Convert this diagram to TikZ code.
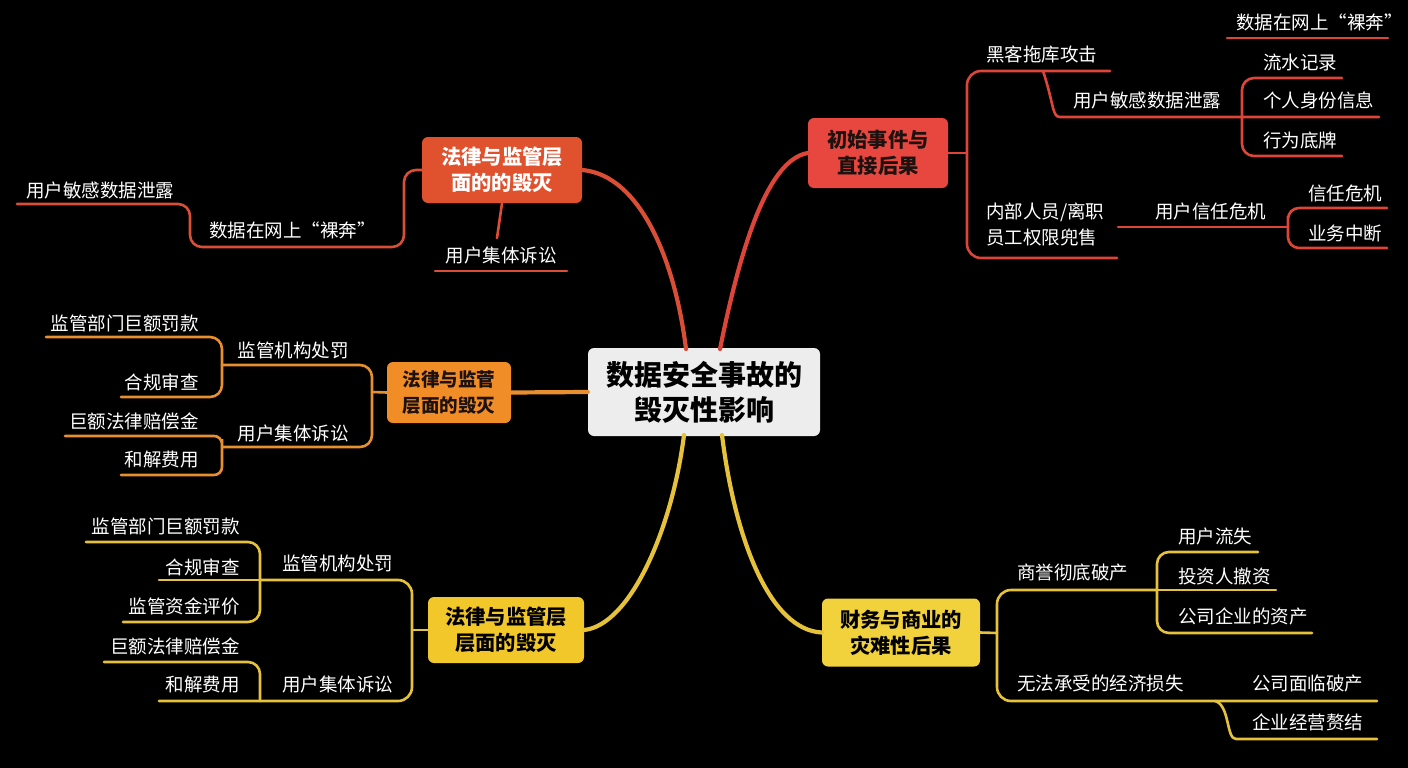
\documentclass[tikz,border=0pt]{standalone}
\usepackage{fontspec}
\setmainfont{Noto Sans CJK SC}
\usetikzlibrary{calc}
\definecolor{cred}{HTML}{E8473F}
\definecolor{ctl}{HTML}{E0512E}
\definecolor{corg}{HTML}{F08D26}
\definecolor{cyel}{HTML}{F2C72A}
\definecolor{cyel2}{HTML}{F1D23C}
\definecolor{lred}{HTML}{DC4538}
\definecolor{ltl}{HTML}{DA4E36}
\definecolor{lorg}{HTML}{E8902F}
\definecolor{lyel}{HTML}{E6C23A}
\definecolor{cgray}{HTML}{EDEDED}
\definecolor{dtext}{HTML}{1E1210}
\begin{document}
\begin{tikzpicture}[x=1pt,y=-1pt,
  mainbox/.style={rounded corners=6pt, align=center, inner sep=0pt, font=\fontsize{20.3}{26}\selectfont\bfseries},
  leaf/.style={text=white, inner sep=0pt, font=\fontsize{18.5}{26}\selectfont},
  br/.style={line width=2.6pt, rounded corners=12pt, line cap=round},
  trunk/.style={line width=4.2pt, line cap=round}]
\fill[black] (0,0) rectangle (1408,768);
\useasboundingbox (0,0) rectangle (1408,768);

% ---------- main curves ----------
\coordinate (cTR) at (720,349);
\coordinate (cTL) at (686,349);
\coordinate (cBL) at (684,435);
\coordinate (cBR) at (722,435);

% ---------- boxes ----------
\node[mainbox, fill=cgray, text=black, minimum width=232pt, minimum height=88pt,
  font=\fontsize{28}{35}\selectfont\bfseries] (c) at (704,392) {数据安全事故的\\毁灭性影响};
\node[mainbox, fill=cred, text=dtext, minimum width=140pt, minimum height=70pt] (tr) at (878,153) {初始事件与\\直接后果};
\node[mainbox, fill=ctl, text=white, minimum width=160pt, minimum height=66pt] (tl) at (502,170) {法律与监管层\\面的的毁灭};
\node[mainbox, fill=corg, text=dtext, minimum width=124pt, minimum height=61pt,
  font=\fontsize{18.5}{26}\selectfont\bfseries] (ml) at (449,392.5) {法律与监菅\\层面的毁灭};
\node[mainbox, fill=cyel, text=black, minimum width=156pt, minimum height=66pt] (bl) at (506,630) {法律与监管层\\层面的毁灭};
\node[mainbox, fill=cyel2, text=black, minimum width=158pt, minimum height=68pt] (brx) at (901,632.5) {财务与商业的\\灾难性后果};

\draw[trunk, lred] (cTR) .. controls (738,260) and (765,160) .. (tr.west);
\draw[trunk, ltl] (cTL) .. controls (675,260) and (640,175) .. (tl.east);
\draw[trunk, lyel] (cBL) .. controls (672,530) and (630,625) .. (bl.east);
\draw[trunk, lyel] (cBR) .. controls (735,540) and (770,630) .. (brx.west);
\draw[trunk, lorg] (c.west) -- (ml.east);

% ---------- top right ----------
\node[leaf, anchor=west] (wsl) at (1236,22) {数据在网上“裸奔”};
\coordinate (wslW) at (1227,38); \coordinate (wslE) at (1388,38);
\draw[br, lred] (wslW) -- (wslE);

\node[leaf, anchor=west] (hk) at (986,54) {黑客拖库攻击};
\node[leaf, anchor=west, align=left] (nb) at (986,224) {内部人员/离职\\员工权限兜售};
\coordinate (trJ) at (967,153);
\coordinate (hkE) at (1110,71);
\coordinate (nbE) at (1117,258);
\draw[br, lred] (tr.east) -- (trJ);
\draw[br, lred, rounded corners=14pt] (hkE) -| (trJ) |- (nbE);

\node[leaf, anchor=west] (leak) at (1073,100) {用户敏感数据泄露};
\node[leaf, anchor=west] (ls) at (1263,62) {流水记录};
\node[leaf, anchor=west] (sf) at (1263,100) {个人身份信息};
\node[leaf, anchor=west] (xw) at (1263,140) {行为底牌};
\coordinate (leakS) at (1043,71);
\coordinate (leakJ) at (1242,117);
\coordinate (sfE) at (1379,117);
\coordinate (lsE) at (1342,78);
\coordinate (xwE) at (1342,156);
\draw[br, lred] (leakS) .. controls (1054,104) and (1052,117) .. (1072,117) -- (sfE);
\draw[br, lred] (lsE) -| (leakJ) |- (xwE);

\node[leaf, anchor=west] (xr) at (1155,211) {用户信任危机};
\node[leaf, anchor=west] (xj) at (1308,193) {信任危机};
\node[leaf, anchor=west] (yw) at (1308,233) {业务中断};
\coordinate (nbM) at (1118,227);
\coordinate (xrJ) at (1288,227);
\coordinate (xjE) at (1387,208);
\coordinate (ywE) at (1387,248);
\draw[br, lred] (nbM) -- (xrJ);
\draw[br, lred, rounded corners=11pt] (xjE) -| (xrJ) |- (ywE);

% ---------- top left ----------
\node[leaf, anchor=west] (lw) at (209,230) {数据在网上“裸奔”};
\node[leaf, anchor=west] (lk) at (26,190) {用户敏感数据泄露};
\node[leaf] (js) at (501,255) {用户集体诉讼};
\coordinate (lwE) at (404,247);
\coordinate (lwW) at (190,247);
\coordinate (lkW) at (17,204);
\draw[br, ltl] (tl.west) -| (lwE) -- (lwW) |- (lkW);
\coordinate (jsT) at (497,238);
\draw[br, ltl] (tl.south) -- (jsT);
\coordinate (jsW) at (435,271); \coordinate (jsE) at (567,271);
\draw[br, ltl] (jsW) -- (jsE);

% ---------- middle left ----------
\coordinate (mlJ) at (372,392);
\draw[br, lorg] (ml.west) -- (mlJ);
\node[leaf, anchor=east] (jg) at (349,350) {监管机构处罚};
\node[leaf, anchor=east] (ss) at (349,433) {用户集体诉讼};
\coordinate (jgL) at (222,365);
\coordinate (ssL) at (222,447);
\draw[br, lorg] (jgL) -| (mlJ) |- (ssL);
\node[leaf, anchor=east] (fk) at (199,323) {监管部门巨额罚款};
\node[leaf, anchor=east] (hg) at (199,382) {合规审查};
\node[leaf, anchor=east] (pc) at (199,421) {巨额法律赔偿金};
\node[leaf, anchor=east] (hj) at (199,460) {和解费用};
\coordinate (fkW) at (46,337);
\coordinate (hgW) at (121,397);
\coordinate (pcW) at (65,436);
\coordinate (hjW) at (121,475);
\draw[br, lorg] (fkW) -| (jgL) |- (hgW);
\draw[br, lorg, rounded corners=8pt] (pcW) -| (ssL) |- (hjW);

% ---------- bottom left ----------
\coordinate (blJ) at (412,630);
\draw[br, lyel] (bl.west) -- (blJ);
\node[leaf, anchor=west] (jg2) at (282,563) {监管机构处罚};
\node[leaf, anchor=west] (ss2) at (282,684) {用户集体诉讼};
\coordinate (jg2L) at (260,580);
\coordinate (ss2L) at (260,701);
\coordinate (hj2W) at (159,701);
\draw[br, lyel, rounded corners=14pt] (jg2L) -| (blJ) |- (hj2W);
\node[leaf, anchor=east] (fk2) at (240,526) {监管部门巨额罚款};
\node[leaf, anchor=east] (hg2) at (240,567) {合规审查};
\node[leaf, anchor=east] (zj2) at (240,606) {监管资金评价};
\node[leaf, anchor=east] (pc2) at (240,646) {巨额法律赔偿金};
\node[leaf, anchor=east] (hj2) at (240,684) {和解费用};
\coordinate (fk2W) at (86,542);
\coordinate (hg2W) at (159,580);
\coordinate (zj2W) at (123,622);
\coordinate (pc2W) at (104,662);
\draw[br, lyel] (fk2W) -| (jg2L) |- (zj2W);
\draw[br, lyel] (hg2W) -- (jg2L);
\draw[br, lyel] (pc2W) -| (ss2L);

% ---------- bottom right ----------
\coordinate (brJ) at (997,633);
\draw[br, lyel] (brx.east) -- (brJ);
\node[leaf, anchor=west] (sy) at (1017,572) {商誉彻底破产};
\node[leaf, anchor=west] (wf) at (1017,683) {无法承受的经济损失};
\coordinate (syE) at (1157,590);
\coordinate (wfE) at (1377,701);
\draw[br, lyel, rounded corners=14pt] (syE) -| (brJ) |- (wfE);
\node[leaf, anchor=west] (ys) at (1178,536) {用户流失};
\node[leaf, anchor=west] (cz) at (1178,576) {投资人撤资};
\node[leaf, anchor=west] (zc) at (1178,616) {公司企业的资产};
\coordinate (ysE) at (1258,552);
\coordinate (czE) at (1276,590);
\coordinate (zcE) at (1312,633);
\draw[br, lyel] (ysE) -| (syE) |- (zcE);
\draw[br, lyel] (syE) -- (czE);
\node[leaf, anchor=west] (pch) at (1252,683) {公司面临破产};
\node[leaf, anchor=west] (qy) at (1252,722) {企业经营赘结};
\coordinate (qyS) at (1215,701);
\coordinate (qyE) at (1377,739);
\draw[br, lyel] (qyS) .. controls (1230,705) and (1226,739) .. (1248,739) -- (qyE);
\end{tikzpicture}
\end{document}
